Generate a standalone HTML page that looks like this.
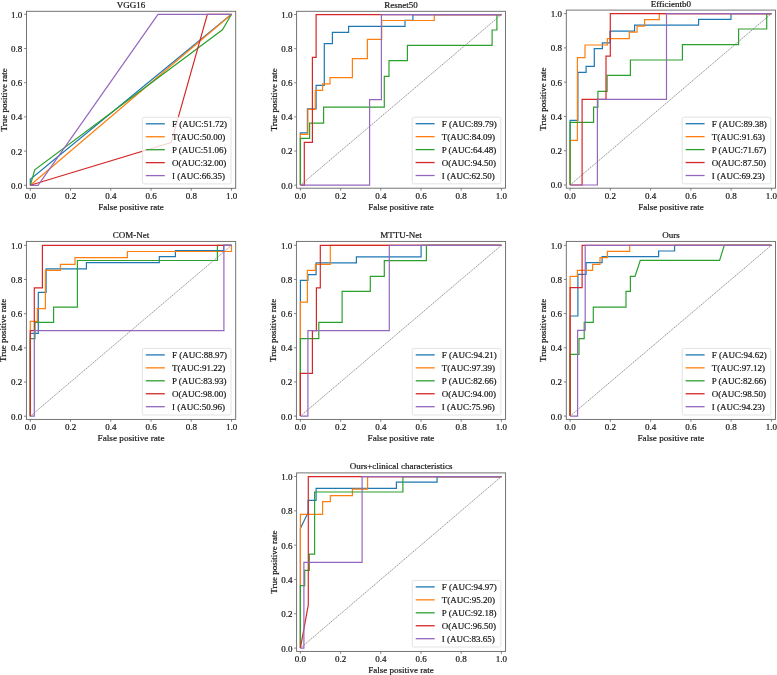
<!DOCTYPE html>
<html><head><meta charset="utf-8"><style>
html,body{margin:0;padding:0;background:#fff;}
svg{display:block;will-change:transform;}
text{font-family:"Liberation Serif", serif;font-size:9px;stroke:#111;stroke-width:0.18px;}
</style></head><body>
<svg width="777" height="675" viewBox="0 0 777 675">
<rect width="777" height="675" fill="#fff"/>
<g><clipPath id="c0"><rect x="26.5" y="11.3" width="209.2" height="177"/></clipPath><g clip-path="url(#c0)"><polyline points="30.3,185.3 30.3,179.4 231.5,14.3" fill="none" stroke="#1f77b4" stroke-width="1.2" stroke-linejoin="miter"/><polyline points="30.3,185.3 231.5,14.3" fill="none" stroke="#ff7f0e" stroke-width="1.2" stroke-linejoin="miter"/><polyline points="30.3,185.3 34.73,169.75 222.45,29.85 231.5,14.3" fill="none" stroke="#2ca02c" stroke-width="1.2" stroke-linejoin="miter"/><polyline points="30.3,185.3 171.14,142.55 207.36,14.3 231.5,14.3" fill="none" stroke="#d62728" stroke-width="1.2" stroke-linejoin="miter"/><polyline points="30.3,185.3 38.04,185.3 157.98,14.3 231.5,14.3" fill="none" stroke="#9467bd" stroke-width="1.2" stroke-linejoin="miter"/></g><rect x="26.5" y="11.3" width="209.2" height="177" fill="none" stroke="#666666" stroke-width="0.9"/><g stroke="#666666" stroke-width="0.8"><line x1="30.3" y1="188.3" x2="30.3" y2="190.7"/><line x1="26.5" y1="185.3" x2="24.1" y2="185.3"/><line x1="70.54" y1="188.3" x2="70.54" y2="190.7"/><line x1="26.5" y1="151.1" x2="24.1" y2="151.1"/><line x1="110.78" y1="188.3" x2="110.78" y2="190.7"/><line x1="26.5" y1="116.9" x2="24.1" y2="116.9"/><line x1="151.02" y1="188.3" x2="151.02" y2="190.7"/><line x1="26.5" y1="82.7" x2="24.1" y2="82.7"/><line x1="191.26" y1="188.3" x2="191.26" y2="190.7"/><line x1="26.5" y1="48.5" x2="24.1" y2="48.5"/><line x1="231.5" y1="188.3" x2="231.5" y2="190.7"/><line x1="26.5" y1="14.3" x2="24.1" y2="14.3"/></g><g fill="#111"><text x="30.3" y="199.1" text-anchor="middle">0.0</text><text x="22.3" y="188.7" text-anchor="end">0.0</text><text x="70.54" y="199.1" text-anchor="middle">0.2</text><text x="22.3" y="154.5" text-anchor="end">0.2</text><text x="110.78" y="199.1" text-anchor="middle">0.4</text><text x="22.3" y="120.3" text-anchor="end">0.4</text><text x="151.02" y="199.1" text-anchor="middle">0.6</text><text x="22.3" y="86.1" text-anchor="end">0.6</text><text x="191.26" y="199.1" text-anchor="middle">0.8</text><text x="22.3" y="51.9" text-anchor="end">0.8</text><text x="231.5" y="199.1" text-anchor="middle">1.0</text><text x="22.3" y="17.7" text-anchor="end">1.0</text><text x="131.1" y="7.7" text-anchor="middle">VGG16</text><text x="131.1" y="209.6" text-anchor="middle" style="font-size:9px">False positive rate</text><text transform="translate(6.5,99.8) rotate(-90)" text-anchor="middle">True positive rate</text></g><rect x="142.4" y="117.3" width="88.6" height="66.6" rx="1.5" fill="#ffffff" fill-opacity="0.8" stroke="#dcdcdc" stroke-width="0.8"/><line x1="145.8" y1="123.8" x2="164.8" y2="123.8" stroke="#1f77b4" stroke-width="1.3"/><text x="171.9" y="127" fill="#111">F (AUC:51.72)</text><line x1="145.8" y1="136.75" x2="164.8" y2="136.75" stroke="#ff7f0e" stroke-width="1.3"/><text x="171.9" y="139.95" fill="#111">T(AUC:50.00)</text><line x1="145.8" y1="149.7" x2="164.8" y2="149.7" stroke="#2ca02c" stroke-width="1.3"/><text x="171.9" y="152.9" fill="#111">P (AUC:51.06)</text><line x1="145.8" y1="162.65" x2="164.8" y2="162.65" stroke="#d62728" stroke-width="1.3"/><text x="171.9" y="165.85" fill="#111">O(AUC:32.00)</text><line x1="145.8" y1="175.6" x2="164.8" y2="175.6" stroke="#9467bd" stroke-width="1.3"/><text x="171.9" y="178.8" fill="#111">I (AUC:66.35)</text></g><g><clipPath id="c1"><rect x="296.6" y="11.3" width="208.9" height="176.9"/></clipPath><g clip-path="url(#c1)"><line x1="300.4" y1="185.2" x2="501.4" y2="14.5" stroke="#6a6a6a" stroke-width="0.7" stroke-dasharray="1.6,0.75"/><path d="M300.4,185.1 V132.9 H307.4 V108.9 H316.1 V85.3 H324.3 V43.6 H332.4 V32.4 H348.6 V26.4 H405 V20.3 H412.9 V14.6 H501.4" fill="none" stroke="#1f77b4" stroke-width="1.2" stroke-linejoin="miter"/><path d="M300.4,185.1 V134.3 H307.9 V109.3 H315.3 V90.4 H322.6 V83.9 H330 V77.6 H352.4 V58.6 H367.4 V39.3 H381.7 V20.5 H434.3 V14.6 H501.4" fill="none" stroke="#ff7f0e" stroke-width="1.2" stroke-linejoin="miter"/><path d="M300.4,185.1 V138.3 H309.6 V123.1 H323.6 V107.1 H384.3 V76.4 H389 V60.7 H407.4 V45.4 H492.1 V30 H496.9 V14.6 H501.4" fill="none" stroke="#2ca02c" stroke-width="1.2" stroke-linejoin="miter"/><path d="M300.4,185.1 H304.3 V142.4 H312.4 V57.4 H316.1 V14.6 H501.4" fill="none" stroke="#d62728" stroke-width="1.2" stroke-linejoin="miter"/><path d="M300.4,185.1 H369.6 V99.6 H381.4 V14.6 H501.4" fill="none" stroke="#9467bd" stroke-width="1.2" stroke-linejoin="miter"/></g><rect x="296.6" y="11.3" width="208.9" height="176.9" fill="none" stroke="#666666" stroke-width="0.9"/><g stroke="#666666" stroke-width="0.8"><line x1="300.4" y1="188.2" x2="300.4" y2="190.6"/><line x1="296.6" y1="185.2" x2="294.2" y2="185.2"/><line x1="340.6" y1="188.2" x2="340.6" y2="190.6"/><line x1="296.6" y1="151.06" x2="294.2" y2="151.06"/><line x1="380.8" y1="188.2" x2="380.8" y2="190.6"/><line x1="296.6" y1="116.92" x2="294.2" y2="116.92"/><line x1="421" y1="188.2" x2="421" y2="190.6"/><line x1="296.6" y1="82.78" x2="294.2" y2="82.78"/><line x1="461.2" y1="188.2" x2="461.2" y2="190.6"/><line x1="296.6" y1="48.64" x2="294.2" y2="48.64"/><line x1="501.4" y1="188.2" x2="501.4" y2="190.6"/><line x1="296.6" y1="14.5" x2="294.2" y2="14.5"/></g><g fill="#111"><text x="300.4" y="199" text-anchor="middle">0.0</text><text x="292.4" y="188.6" text-anchor="end">0.0</text><text x="340.6" y="199" text-anchor="middle">0.2</text><text x="292.4" y="154.46" text-anchor="end">0.2</text><text x="380.8" y="199" text-anchor="middle">0.4</text><text x="292.4" y="120.32" text-anchor="end">0.4</text><text x="421" y="199" text-anchor="middle">0.6</text><text x="292.4" y="86.18" text-anchor="end">0.6</text><text x="461.2" y="199" text-anchor="middle">0.8</text><text x="292.4" y="52.04" text-anchor="end">0.8</text><text x="501.4" y="199" text-anchor="middle">1.0</text><text x="292.4" y="17.9" text-anchor="end">1.0</text><text x="401.05" y="7.7" text-anchor="middle">Resnet50</text><text x="401.05" y="209.5" text-anchor="middle" style="font-size:9px">False positive rate</text><text transform="translate(276.6,99.75) rotate(-90)" text-anchor="middle">True positive rate</text></g><rect x="412.2" y="117.2" width="88.6" height="66.6" rx="1.5" fill="#ffffff" fill-opacity="0.8" stroke="#dcdcdc" stroke-width="0.8"/><line x1="415.6" y1="123.7" x2="434.6" y2="123.7" stroke="#1f77b4" stroke-width="1.3"/><text x="441.7" y="126.9" fill="#111">F (AUC:89.79)</text><line x1="415.6" y1="136.65" x2="434.6" y2="136.65" stroke="#ff7f0e" stroke-width="1.3"/><text x="441.7" y="139.85" fill="#111">T(AUC:84.09)</text><line x1="415.6" y1="149.6" x2="434.6" y2="149.6" stroke="#2ca02c" stroke-width="1.3"/><text x="441.7" y="152.8" fill="#111">P (AUC:64.48)</text><line x1="415.6" y1="162.55" x2="434.6" y2="162.55" stroke="#d62728" stroke-width="1.3"/><text x="441.7" y="165.75" fill="#111">O(AUC:94.50)</text><line x1="415.6" y1="175.5" x2="434.6" y2="175.5" stroke="#9467bd" stroke-width="1.3"/><text x="441.7" y="178.7" fill="#111">I (AUC:62.50)</text></g><g><clipPath id="c2"><rect x="566.3" y="10.1" width="209.2" height="178.1"/></clipPath><g clip-path="url(#c2)"><line x1="570.1" y1="185" x2="771.4" y2="13.6" stroke="#6a6a6a" stroke-width="0.7" stroke-dasharray="1.6,0.75"/><path d="M570.1,185 V120.4 H577.9 V72.4 H586.1 V66.4 H594.3 V48.6 H602.4 V42.9 H610 V31.1 H634.6 V25.2 H698.6 V19.3 H731 V13.6 H771.4" fill="none" stroke="#1f77b4" stroke-width="1.2" stroke-linejoin="miter"/><path d="M570.1,185 V140.4 H577.4 V57.6 H585 V45 H607.4 V38.6 H629.3 V32.1 H637.1 V26.1 H644.6 V19.6 H659.3 V13.6 H771.4" fill="none" stroke="#ff7f0e" stroke-width="1.2" stroke-linejoin="miter"/><path d="M570.1,185 V122.4 H593.6 V107.1 H597.9 V91.3 H607.1 V75.4 H630.4 V60 H682.4 V44.6 H738.6 V29 H766.7 V13.6 H771.4" fill="none" stroke="#2ca02c" stroke-width="1.2" stroke-linejoin="miter"/><path d="M570.1,185 H582.1 V99.3 H606 V56.1 H610.3 V13.6 H771.4" fill="none" stroke="#d62728" stroke-width="1.2" stroke-linejoin="miter"/><path d="M570.1,185 H597.4 V99.3 H666.5 V13.6 H771.4" fill="none" stroke="#9467bd" stroke-width="1.2" stroke-linejoin="miter"/></g><rect x="566.3" y="10.1" width="209.2" height="178.1" fill="none" stroke="#666666" stroke-width="0.9"/><g stroke="#666666" stroke-width="0.8"><line x1="570.1" y1="188.2" x2="570.1" y2="190.6"/><line x1="566.3" y1="185" x2="563.9" y2="185"/><line x1="610.36" y1="188.2" x2="610.36" y2="190.6"/><line x1="566.3" y1="150.72" x2="563.9" y2="150.72"/><line x1="650.62" y1="188.2" x2="650.62" y2="190.6"/><line x1="566.3" y1="116.44" x2="563.9" y2="116.44"/><line x1="690.88" y1="188.2" x2="690.88" y2="190.6"/><line x1="566.3" y1="82.16" x2="563.9" y2="82.16"/><line x1="731.14" y1="188.2" x2="731.14" y2="190.6"/><line x1="566.3" y1="47.88" x2="563.9" y2="47.88"/><line x1="771.4" y1="188.2" x2="771.4" y2="190.6"/><line x1="566.3" y1="13.6" x2="563.9" y2="13.6"/></g><g fill="#111"><text x="570.1" y="199" text-anchor="middle">0.0</text><text x="562.1" y="188.4" text-anchor="end">0.0</text><text x="610.36" y="199" text-anchor="middle">0.2</text><text x="562.1" y="154.12" text-anchor="end">0.2</text><text x="650.62" y="199" text-anchor="middle">0.4</text><text x="562.1" y="119.84" text-anchor="end">0.4</text><text x="690.88" y="199" text-anchor="middle">0.6</text><text x="562.1" y="85.56" text-anchor="end">0.6</text><text x="731.14" y="199" text-anchor="middle">0.8</text><text x="562.1" y="51.28" text-anchor="end">0.8</text><text x="771.4" y="199" text-anchor="middle">1.0</text><text x="562.1" y="17" text-anchor="end">1.0</text><text x="670.9" y="6.5" text-anchor="middle">Efficientb0</text><text x="670.9" y="209.5" text-anchor="middle" style="font-size:9px">False positive rate</text><text transform="translate(546.3,99.15) rotate(-90)" text-anchor="middle">True positive rate</text></g><rect x="682.2" y="117.2" width="88.6" height="66.6" rx="1.5" fill="#ffffff" fill-opacity="0.8" stroke="#dcdcdc" stroke-width="0.8"/><line x1="685.6" y1="123.7" x2="704.6" y2="123.7" stroke="#1f77b4" stroke-width="1.3"/><text x="711.7" y="126.9" fill="#111">F (AUC:89.38)</text><line x1="685.6" y1="136.65" x2="704.6" y2="136.65" stroke="#ff7f0e" stroke-width="1.3"/><text x="711.7" y="139.85" fill="#111">T(AUC:91.63)</text><line x1="685.6" y1="149.6" x2="704.6" y2="149.6" stroke="#2ca02c" stroke-width="1.3"/><text x="711.7" y="152.8" fill="#111">P (AUC:71.67)</text><line x1="685.6" y1="162.55" x2="704.6" y2="162.55" stroke="#d62728" stroke-width="1.3"/><text x="711.7" y="165.75" fill="#111">O(AUC:87.50)</text><line x1="685.6" y1="175.5" x2="704.6" y2="175.5" stroke="#9467bd" stroke-width="1.3"/><text x="711.7" y="178.7" fill="#111">I (AUC:69.23)</text></g><g><clipPath id="c3"><rect x="26.4" y="241.4" width="209.3" height="178"/></clipPath><g clip-path="url(#c3)"><line x1="30.3" y1="416.2" x2="231.5" y2="245.3" stroke="#6a6a6a" stroke-width="0.7" stroke-dasharray="1.6,0.75"/><path d="M30.3,416.2 V333.3 H38.3 V292.4 H46.1 V268.9 H86.4 V262.6 H159.3 V256.7 H175.4 V250.7 H223.6 V245.3 H231.5" fill="none" stroke="#1f77b4" stroke-width="1.2" stroke-linejoin="miter"/><path d="M30.3,416.2 V321.4 H37.4 V308.6 H45.4 V270.4 H60.4 V264.3 H75 V257.6 H127.4 V251.5 H231.5 V245.3" fill="none" stroke="#ff7f0e" stroke-width="1.2" stroke-linejoin="miter"/><path d="M30.3,416.2 V338.6 H35 V322.4 H53.6 V307.1 H77.4 V260.5 H217.4 V245.3 H231.5" fill="none" stroke="#2ca02c" stroke-width="1.2" stroke-linejoin="miter"/><path d="M30.3,416.2 V330.7 H34.3 V287.9 H42.4 V245.3 H231.5" fill="none" stroke="#d62728" stroke-width="1.2" stroke-linejoin="miter"/><path d="M30.3,416.2 H34.3 V330.7 H223.9 V245.3 H231.5" fill="none" stroke="#9467bd" stroke-width="1.2" stroke-linejoin="miter"/></g><rect x="26.4" y="241.4" width="209.3" height="178" fill="none" stroke="#666666" stroke-width="0.9"/><g stroke="#666666" stroke-width="0.8"><line x1="30.3" y1="419.4" x2="30.3" y2="421.8"/><line x1="26.4" y1="416.2" x2="24" y2="416.2"/><line x1="70.54" y1="419.4" x2="70.54" y2="421.8"/><line x1="26.4" y1="382.02" x2="24" y2="382.02"/><line x1="110.78" y1="419.4" x2="110.78" y2="421.8"/><line x1="26.4" y1="347.84" x2="24" y2="347.84"/><line x1="151.02" y1="419.4" x2="151.02" y2="421.8"/><line x1="26.4" y1="313.66" x2="24" y2="313.66"/><line x1="191.26" y1="419.4" x2="191.26" y2="421.8"/><line x1="26.4" y1="279.48" x2="24" y2="279.48"/><line x1="231.5" y1="419.4" x2="231.5" y2="421.8"/><line x1="26.4" y1="245.3" x2="24" y2="245.3"/></g><g fill="#111"><text x="30.3" y="430.2" text-anchor="middle">0.0</text><text x="22.2" y="419.6" text-anchor="end">0.0</text><text x="70.54" y="430.2" text-anchor="middle">0.2</text><text x="22.2" y="385.42" text-anchor="end">0.2</text><text x="110.78" y="430.2" text-anchor="middle">0.4</text><text x="22.2" y="351.24" text-anchor="end">0.4</text><text x="151.02" y="430.2" text-anchor="middle">0.6</text><text x="22.2" y="317.06" text-anchor="end">0.6</text><text x="191.26" y="430.2" text-anchor="middle">0.8</text><text x="22.2" y="282.88" text-anchor="end">0.8</text><text x="231.5" y="430.2" text-anchor="middle">1.0</text><text x="22.2" y="248.7" text-anchor="end">1.0</text><text x="131.05" y="237.8" text-anchor="middle">COM-Net</text><text x="131.05" y="441.4" text-anchor="middle" style="font-size:9.2px">False positive rate</text><text transform="translate(6.4,330.4) rotate(-90)" text-anchor="middle">True positive rate</text></g><rect x="142.4" y="348.4" width="88.6" height="66.6" rx="1.5" fill="#ffffff" fill-opacity="0.8" stroke="#dcdcdc" stroke-width="0.8"/><line x1="145.8" y1="354.9" x2="164.8" y2="354.9" stroke="#1f77b4" stroke-width="1.3"/><text x="171.9" y="358.1" fill="#111">F (AUC:88.97)</text><line x1="145.8" y1="367.85" x2="164.8" y2="367.85" stroke="#ff7f0e" stroke-width="1.3"/><text x="171.9" y="371.05" fill="#111">T(AUC:91.22)</text><line x1="145.8" y1="380.8" x2="164.8" y2="380.8" stroke="#2ca02c" stroke-width="1.3"/><text x="171.9" y="384" fill="#111">P (AUC:83.93)</text><line x1="145.8" y1="393.75" x2="164.8" y2="393.75" stroke="#d62728" stroke-width="1.3"/><text x="171.9" y="396.95" fill="#111">O(AUC:98.00)</text><line x1="145.8" y1="406.7" x2="164.8" y2="406.7" stroke="#9467bd" stroke-width="1.3"/><text x="171.9" y="409.9" fill="#111">I (AUC:50.96)</text></g><g><clipPath id="c4"><rect x="296.4" y="241.4" width="209.2" height="178"/></clipPath><g clip-path="url(#c4)"><line x1="300.4" y1="416.1" x2="501.4" y2="245.3" stroke="#6a6a6a" stroke-width="0.7" stroke-dasharray="1.6,0.75"/><path d="M300.4,416.1 V280.4 H307.9 V274.6 H316.1 V262.9 H356.4 V256.9 H421.1 V245.3 H501.4" fill="none" stroke="#1f77b4" stroke-width="1.2" stroke-linejoin="miter"/><path d="M300.4,416.1 V302.1 H307.4 V270.3 H315.4 V264.3 H330.3 V245.3 H501.4" fill="none" stroke="#ff7f0e" stroke-width="1.2" stroke-linejoin="miter"/><path d="M300.4,416.1 V338.6 H318.8 V322.4 H342.1 V291.4 H370.3 V276.4 H384.3 V260.6 H426.4 V245.3 H501.4" fill="none" stroke="#2ca02c" stroke-width="1.2" stroke-linejoin="miter"/><path d="M300.4,416.1 V373.3 H312.4 V330.7 H316.4 V287.9 H320.3 V245.3 H501.4" fill="none" stroke="#d62728" stroke-width="1.2" stroke-linejoin="miter"/><path d="M300.4,416.1 H307.9 V330.7 H389.3 V245.3 H501.4" fill="none" stroke="#9467bd" stroke-width="1.2" stroke-linejoin="miter"/></g><rect x="296.4" y="241.4" width="209.2" height="178" fill="none" stroke="#666666" stroke-width="0.9"/><g stroke="#666666" stroke-width="0.8"><line x1="300.4" y1="419.4" x2="300.4" y2="421.8"/><line x1="296.4" y1="416.1" x2="294" y2="416.1"/><line x1="340.6" y1="419.4" x2="340.6" y2="421.8"/><line x1="296.4" y1="381.94" x2="294" y2="381.94"/><line x1="380.8" y1="419.4" x2="380.8" y2="421.8"/><line x1="296.4" y1="347.78" x2="294" y2="347.78"/><line x1="421" y1="419.4" x2="421" y2="421.8"/><line x1="296.4" y1="313.62" x2="294" y2="313.62"/><line x1="461.2" y1="419.4" x2="461.2" y2="421.8"/><line x1="296.4" y1="279.46" x2="294" y2="279.46"/><line x1="501.4" y1="419.4" x2="501.4" y2="421.8"/><line x1="296.4" y1="245.3" x2="294" y2="245.3"/></g><g fill="#111"><text x="300.4" y="430.2" text-anchor="middle">0.0</text><text x="292.2" y="419.5" text-anchor="end">0.0</text><text x="340.6" y="430.2" text-anchor="middle">0.2</text><text x="292.2" y="385.34" text-anchor="end">0.2</text><text x="380.8" y="430.2" text-anchor="middle">0.4</text><text x="292.2" y="351.18" text-anchor="end">0.4</text><text x="421" y="430.2" text-anchor="middle">0.6</text><text x="292.2" y="317.02" text-anchor="end">0.6</text><text x="461.2" y="430.2" text-anchor="middle">0.8</text><text x="292.2" y="282.86" text-anchor="end">0.8</text><text x="501.4" y="430.2" text-anchor="middle">1.0</text><text x="292.2" y="248.7" text-anchor="end">1.0</text><text x="401" y="237.8" text-anchor="middle">MTTU-Net</text><text x="401" y="441.4" text-anchor="middle" style="font-size:9.2px">False positive rate</text><text transform="translate(276.4,330.4) rotate(-90)" text-anchor="middle">True positive rate</text></g><rect x="412.3" y="348.4" width="88.6" height="66.6" rx="1.5" fill="#ffffff" fill-opacity="0.8" stroke="#dcdcdc" stroke-width="0.8"/><line x1="415.7" y1="354.9" x2="434.7" y2="354.9" stroke="#1f77b4" stroke-width="1.3"/><text x="441.8" y="358.1" fill="#111">F (AUC:94.21)</text><line x1="415.7" y1="367.85" x2="434.7" y2="367.85" stroke="#ff7f0e" stroke-width="1.3"/><text x="441.8" y="371.05" fill="#111">T(AUC:97.39)</text><line x1="415.7" y1="380.8" x2="434.7" y2="380.8" stroke="#2ca02c" stroke-width="1.3"/><text x="441.8" y="384" fill="#111">P (AUC:82.66)</text><line x1="415.7" y1="393.75" x2="434.7" y2="393.75" stroke="#d62728" stroke-width="1.3"/><text x="441.8" y="396.95" fill="#111">O(AUC:94.00)</text><line x1="415.7" y1="406.7" x2="434.7" y2="406.7" stroke="#9467bd" stroke-width="1.3"/><text x="441.8" y="409.9" fill="#111">I (AUC:75.96)</text></g><g><clipPath id="c5"><rect x="566.3" y="241.4" width="209.2" height="178"/></clipPath><g clip-path="url(#c5)"><line x1="570.1" y1="416.1" x2="771.4" y2="245.3" stroke="#6a6a6a" stroke-width="0.7" stroke-dasharray="1.6,0.75"/><path d="M570.1,416.1 V316 H577.9 V274.3 H586.1 V262.6 H602.1 V256.7 H658.6 V251 H674.6 V245.3 H771.4" fill="none" stroke="#1f77b4" stroke-width="1.2" stroke-linejoin="miter"/><path d="M570.1,416.1 V276.4 H577.4 V270.3 H592.6 V264.3 H600 V257.6 H607.4 V251.4 H629.7 V245.3 H771.4" fill="none" stroke="#ff7f0e" stroke-width="1.2" stroke-linejoin="miter"/><path d="M570.1,416.1 V354.3 H579 V338.6 H584.2 V322.4 H593.3 V307.1 H626 V291.4 H630.4 V276.4 H635 L640.3,260.4 H719.6 L724.3,245.3 H771.4" fill="none" stroke="#2ca02c" stroke-width="1.2" stroke-linejoin="miter"/><path d="M570.1,416.1 V287.6 H582.1 V245.3 H771.4" fill="none" stroke="#d62728" stroke-width="1.2" stroke-linejoin="miter"/><path d="M570.1,416.1 H577.6 V330.4 H585.2 V245.3 H771.4" fill="none" stroke="#9467bd" stroke-width="1.2" stroke-linejoin="miter"/></g><rect x="566.3" y="241.4" width="209.2" height="178" fill="none" stroke="#666666" stroke-width="0.9"/><g stroke="#666666" stroke-width="0.8"><line x1="570.1" y1="419.4" x2="570.1" y2="421.8"/><line x1="566.3" y1="416.1" x2="563.9" y2="416.1"/><line x1="610.36" y1="419.4" x2="610.36" y2="421.8"/><line x1="566.3" y1="381.94" x2="563.9" y2="381.94"/><line x1="650.62" y1="419.4" x2="650.62" y2="421.8"/><line x1="566.3" y1="347.78" x2="563.9" y2="347.78"/><line x1="690.88" y1="419.4" x2="690.88" y2="421.8"/><line x1="566.3" y1="313.62" x2="563.9" y2="313.62"/><line x1="731.14" y1="419.4" x2="731.14" y2="421.8"/><line x1="566.3" y1="279.46" x2="563.9" y2="279.46"/><line x1="771.4" y1="419.4" x2="771.4" y2="421.8"/><line x1="566.3" y1="245.3" x2="563.9" y2="245.3"/></g><g fill="#111"><text x="570.1" y="430.2" text-anchor="middle">0.0</text><text x="562.1" y="419.5" text-anchor="end">0.0</text><text x="610.36" y="430.2" text-anchor="middle">0.2</text><text x="562.1" y="385.34" text-anchor="end">0.2</text><text x="650.62" y="430.2" text-anchor="middle">0.4</text><text x="562.1" y="351.18" text-anchor="end">0.4</text><text x="690.88" y="430.2" text-anchor="middle">0.6</text><text x="562.1" y="317.02" text-anchor="end">0.6</text><text x="731.14" y="430.2" text-anchor="middle">0.8</text><text x="562.1" y="282.86" text-anchor="end">0.8</text><text x="771.4" y="430.2" text-anchor="middle">1.0</text><text x="562.1" y="248.7" text-anchor="end">1.0</text><text x="670.9" y="237.8" text-anchor="middle">Ours</text><text x="670.9" y="441.4" text-anchor="middle" style="font-size:9.2px">False positive rate</text><text transform="translate(546.3,330.4) rotate(-90)" text-anchor="middle">True positive rate</text></g><rect x="682.2" y="348.4" width="88.6" height="66.6" rx="1.5" fill="#ffffff" fill-opacity="0.8" stroke="#dcdcdc" stroke-width="0.8"/><line x1="685.6" y1="354.9" x2="704.6" y2="354.9" stroke="#1f77b4" stroke-width="1.3"/><text x="711.7" y="358.1" fill="#111">F (AUC:94.62)</text><line x1="685.6" y1="367.85" x2="704.6" y2="367.85" stroke="#ff7f0e" stroke-width="1.3"/><text x="711.7" y="371.05" fill="#111">T(AUC:97.12)</text><line x1="685.6" y1="380.8" x2="704.6" y2="380.8" stroke="#2ca02c" stroke-width="1.3"/><text x="711.7" y="384" fill="#111">P (AUC:82.66)</text><line x1="685.6" y1="393.75" x2="704.6" y2="393.75" stroke="#d62728" stroke-width="1.3"/><text x="711.7" y="396.95" fill="#111">O(AUC:98.50)</text><line x1="685.6" y1="406.7" x2="704.6" y2="406.7" stroke="#9467bd" stroke-width="1.3"/><text x="711.7" y="409.9" fill="#111">I (AUC:94.23)</text></g><g><clipPath id="c6"><rect x="296.6" y="472.9" width="209" height="178.5"/></clipPath><g clip-path="url(#c6)"><line x1="300.4" y1="648.1" x2="501.4" y2="476.5" stroke="#6a6a6a" stroke-width="0.7" stroke-dasharray="1.6,0.75"/><path d="M300.4,648.1 V528.4 L308.1,512.4 V500.3 H316.1 V488.4 H396.4 V482.2 H437.1 V476.6 H501.4" fill="none" stroke="#1f77b4" stroke-width="1.2" stroke-linejoin="miter"/><path d="M300.4,648.1 V514.4 H322.6 V501.6 H330.3 V495.6 H352.4 V489.1 H367.6 V476.6 H501.4" fill="none" stroke="#ff7f0e" stroke-width="1.2" stroke-linejoin="miter"/><path d="M300.4,648.1 V585.6 H304.7 V570.3 H309.3 V554.1 H314.6 V492 H402.9 V476.6 H501.4" fill="none" stroke="#2ca02c" stroke-width="1.2" stroke-linejoin="miter"/><path d="M300.4,648.1 L308.3,604.9 V476.6 H501.4" fill="none" stroke="#d62728" stroke-width="1.2" stroke-linejoin="miter"/><path d="M300.4,648.1 H303.9 V562.4 H362.1 V476.6 H501.4" fill="none" stroke="#9467bd" stroke-width="1.2" stroke-linejoin="miter"/></g><rect x="296.6" y="472.9" width="209" height="178.5" fill="none" stroke="#666666" stroke-width="0.9"/><g stroke="#666666" stroke-width="0.8"><line x1="300.4" y1="651.4" x2="300.4" y2="653.8"/><line x1="296.6" y1="648.1" x2="294.2" y2="648.1"/><line x1="340.6" y1="651.4" x2="340.6" y2="653.8"/><line x1="296.6" y1="613.78" x2="294.2" y2="613.78"/><line x1="380.8" y1="651.4" x2="380.8" y2="653.8"/><line x1="296.6" y1="579.46" x2="294.2" y2="579.46"/><line x1="421" y1="651.4" x2="421" y2="653.8"/><line x1="296.6" y1="545.14" x2="294.2" y2="545.14"/><line x1="461.2" y1="651.4" x2="461.2" y2="653.8"/><line x1="296.6" y1="510.82" x2="294.2" y2="510.82"/><line x1="501.4" y1="651.4" x2="501.4" y2="653.8"/><line x1="296.6" y1="476.5" x2="294.2" y2="476.5"/></g><g fill="#111"><text x="300.4" y="662.2" text-anchor="middle">0.0</text><text x="292.4" y="651.5" text-anchor="end">0.0</text><text x="340.6" y="662.2" text-anchor="middle">0.2</text><text x="292.4" y="617.18" text-anchor="end">0.2</text><text x="380.8" y="662.2" text-anchor="middle">0.4</text><text x="292.4" y="582.86" text-anchor="end">0.4</text><text x="421" y="662.2" text-anchor="middle">0.6</text><text x="292.4" y="548.54" text-anchor="end">0.6</text><text x="461.2" y="662.2" text-anchor="middle">0.8</text><text x="292.4" y="514.22" text-anchor="end">0.8</text><text x="501.4" y="662.2" text-anchor="middle">1.0</text><text x="292.4" y="479.9" text-anchor="end">1.0</text><text x="401.1" y="469.3" text-anchor="middle">Ours+clinical characteristics</text><text x="401.1" y="672.7" text-anchor="middle" style="font-size:9px">False positive rate</text><text transform="translate(276.6,562.15) rotate(-90)" text-anchor="middle">True positive rate</text></g><rect x="412.3" y="580.4" width="88.6" height="66.6" rx="1.5" fill="#ffffff" fill-opacity="0.8" stroke="#dcdcdc" stroke-width="0.8"/><line x1="415.7" y1="586.9" x2="434.7" y2="586.9" stroke="#1f77b4" stroke-width="1.3"/><text x="441.8" y="590.1" fill="#111">F (AUC:94.97)</text><line x1="415.7" y1="599.85" x2="434.7" y2="599.85" stroke="#ff7f0e" stroke-width="1.3"/><text x="441.8" y="603.05" fill="#111">T(AUC:95.20)</text><line x1="415.7" y1="612.8" x2="434.7" y2="612.8" stroke="#2ca02c" stroke-width="1.3"/><text x="441.8" y="616" fill="#111">P (AUC:92.18)</text><line x1="415.7" y1="625.75" x2="434.7" y2="625.75" stroke="#d62728" stroke-width="1.3"/><text x="441.8" y="628.95" fill="#111">O(AUC:96.50)</text><line x1="415.7" y1="638.7" x2="434.7" y2="638.7" stroke="#9467bd" stroke-width="1.3"/><text x="441.8" y="641.9" fill="#111">I (AUC:83.65)</text></g>
</svg></body></html>
